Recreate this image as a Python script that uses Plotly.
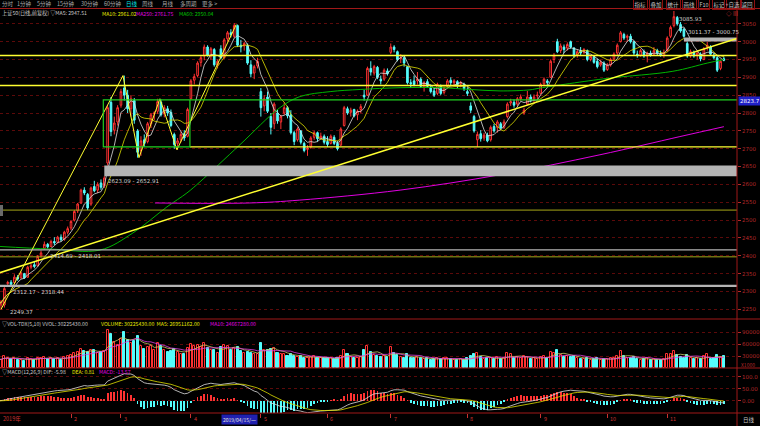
import plotly.graph_objects as go
import pandas as pd

# ---------------- data ----------------
month_starts = [0, 22, 37, 58, 79, 99, 118, 141, 163, 183, 201]
month_labels = ["2019年", "2", "3", "4", "5", "6", "7", "8", "9", "10", "11"]

opens = [
    2288,2262,2262,2322,2326,2325,2340,2338,2350,2340,2368,2375,2372,2400,2420,2432,2426,2440,2438,2452,2446,2466,
    2478,2500,2526,2548,2584,2572,2545,2594,2584,2604,2596,2660,2830,2752,2775,
    2822,2870,2850,2812,2835,2750,2695,2725,2720,2770,2798,2805,2830,2798,2812,2802,2740,2715,2725,2742,2735,
    2840,2892,2905,2942,2960,2985,2960,2978,2935,2980,2955,3008,3025,3015,3045,2990,2988,2990,2935,2912,2932,
    2860,2820,2845,2790,2770,2800,2775,2800,2815,2795,2745,2725,2750,2715,2698,2705,2732,2745,2730,2735,
    2720,2715,2732,2715,2710,2765,2812,2802,2810,2795,2810,2850,2850,2925,2912,2928,2895,2895,2918,
    2970,2985,2972,2952,2955,2930,2885,2890,2890,2895,2872,2888,2872,2862,2855,2875,2858,2875,2892,2885,2888,2882,2880,
    2860,2820,2790,2725,2742,2730,2738,2725,2762,2760,2770,2760,2790,2828,2830,2825,2840,2800,2825,2845,2838,2848,
    2855,2882,2890,2900,2950,3000,2975,2985,2982,3000,2982,2962,2975,2970,2975,2950,2958,2945,2935,2940,
    2922,2935,2952,2968,3000,3020,3012,3015,3000,2965,2962,2972,2960,2968,2965,2975,2965,2962,
    2975,3015,3045,3068,3048,3035,2995,2962,2970,2962,2965,2950,2985,2985,2962,2955,2925,2952]
highs = [
    2292,2276,2312.17,2330,2332,2348,2346,2356,2352,2372,2378,2385,2402,2414.69,2440,2436,2445,2452,2456,2460,2470,2482,
    2500,2528,2548,2588,2592,2576,2594,2610,2606,2614,2623.09,2822,2845,2790,2822,
    2868,2905,2865,2850,2842,2755,2735,2740,2775,2800,2805,2840,2838,2822,2820,2810,2745,2730,2748,2752,2815,
    2895,2910,2945,2960,2992,2990,2985,2982,2950,2990,3010,3030,3035,3052,3048,3005,3000,2995,2948,2935,2955,
    2870,2850,2860,2800,2830,2810,2795,2830,2820,2808,2750,2760,2752,2720,2710,2735,2750,2748,2745,2740,
    2735,2740,2738,2722,2760,2820,2818,2815,2812,2810,2825,2865,2930,2945,2935,2932,2905,2925,2925,
    2995,2990,2975,2965,2960,2932,2895,2905,2915,2900,2890,2895,2880,2870,2885,2880,2875,2895,2900,2895,2892,2890,2885,
    2872,2830,2795,2748,2752,2745,2745,2765,2770,2780,2775,2782,2830,2840,2838,2845,2852,2815,2862,2852,2852,2860,
    2885,2900,2895,2950,2968,3008,2995,2992,2998,3003,2985,2978,2985,2982,2978,2962,2962,2952,2948,2945,
    2940,2955,2970,2995,3030,3025,3020,3022,3002,2975,2980,2978,2972,2975,2985,2980,2975,2978,
    3015,3045,3085.93,3072,3055,3038,3000.75,2978,2975,2975,2970,2985,3000,2990,2968,2960,2948,2958]
lows = [
    2262,2249.37,2255,2318.44,2315,2322,2330,2336,2335,2338,2362,2365,2370,2395,2418.01,2420,2424,2430,2434,2440,2442,2460,
    2472,2496,2520,2545,2570,2528,2540,2578,2576,2585,2590,2652.91,2735,2740,2765,
    2815,2835,2800,2790,2770,2675,2680,2705,2715,2758,2780,2798,2790,2788,2792,2760,2700,2697,2718,2722,2732,
    2838,2880,2900,2930,2948,2958,2950,2930,2925,2950,2952,3000,3012,3010,2985,2970,2975,2935,2900,2895,2925,
    2790,2805,2800,2740,2755,2770,2755,2795,2785,2740,2710,2720,2712,2690,2680,2700,2725,2720,2725,2712,
    2705,2712,2710,2695,2708,2762,2795,2790,2788,2780,2800,2835,2848,2905,2905,2895,2880,2890,2905,
    2965,2970,2945,2940,2930,2880,2870,2875,2880,2870,2860,2870,2855,2845,2850,2850,2852,2870,2878,2875,2870,2872,2862,
    2848,2800,2745,2705,2720,2722,2718,2720,2745,2745,2752,2755,2785,2820,2815,2820,2835,2795,2822,2830,2828,2838,
    2852,2875,2878,2898,2940,2968,2968,2968,2975,2980,2955,2955,2962,2965,2945,2945,2938,2925,2930,2915,
    2918,2930,2948,2962,2998,3005,3000,2995,2962,2955,2958,2955,2942,2958,2960,2962,2958,2955,
    2972,3010,3040,3045,3025,3011.37,2955,2955,2955,2950,2945,2948,2975,2960,2950,2915,2920,2945]
closes = [
    2266,2271,2308,2325,2320,2340,2335,2352,2338,2368,2372,2370,2398,2408,2432,2425,2440,2436,2452,2445,2466,2476,
    2496,2524,2545,2584,2576,2534,2590,2582,2600,2592,2618,2815,2748,2772,2815,
    2860,2850,2812,2840,2780,2690,2722,2715,2770,2795,2800,2832,2795,2815,2800,2765,2712,2722,2740,2730,2810,
    2890,2902,2940,2955,2985,2962,2980,2935,2945,2955,3005,3025,3020,3045,2990,2985,2995,2940,2910,2930,2945,
    2815,2840,2805,2760,2825,2778,2790,2815,2792,2745,2720,2755,2718,2695,2702,2730,2745,2728,2735,2718,
    2712,2735,2715,2700,2755,2815,2800,2808,2792,2805,2818,2845,2925,2915,2930,2900,2890,2920,2910,
    2985,2978,2950,2955,2940,2885,2882,2880,2895,2875,2885,2875,2860,2850,2880,2855,2870,2890,2885,2890,2880,2885,2868,
    2855,2808,2750,2740,2728,2738,2722,2760,2750,2775,2758,2775,2825,2832,2822,2840,2845,2808,2845,2835,2845,2850,
    2880,2895,2885,2945,2962,2972,2988,2978,2992,2985,2960,2972,2968,2978,2950,2958,2942,2930,2942,2920,
    2935,2950,2965,2990,3025,3010,3015,3000,2968,2962,2975,2960,2968,2962,2975,2968,2962,2970,
    3010,3040,3070,3050,3030,3015,2960,2972,2960,2968,2952,2980,2990,2965,2955,2920,2945,2948]
volumes = [  # x1000
    22000,21000,30000,25000,23000,26000,20000,21000,17000,24000,22000,21000,26000,25000,28000,22000,24000,23000,24000,21000,27000,30000,
    32000,38000,40000,48000,42000,40000,44000,45000,38000,40000,42000,96000,86000,66000,58000,
    72000,90000,70000,62000,68000,80000,56000,48000,52000,55000,46000,62000,54000,44000,40000,42000,48000,40000,36000,34000,50000,
    60000,56000,58000,52000,62000,50000,44000,46000,38000,52000,58000,56000,44000,50000,52000,42000,38000,40000,38000,34000,36000,
    62000,46000,44000,48000,50000,38000,34000,36000,30000,34000,30000,28000,30000,26000,24000,28000,30000,26000,24000,25000,
    24000,26000,22000,24000,30000,46000,34000,28000,26000,24000,28000,44000,56000,40000,32000,30000,28000,30000,28000,
    52000,38000,32000,28000,26000,34000,24000,26000,28000,24000,22000,26000,20000,22000,24000,22000,24000,26000,22000,20000,21000,22000,20000,
    24000,30000,36000,38000,28000,22000,24000,26000,22000,28000,22000,24000,38000,34000,26000,28000,24000,30000,28000,22000,24000,22000,
    28000,30000,24000,40000,38000,46000,32000,28000,30000,28000,30000,24000,22000,22000,26000,20000,22000,24000,20000,22000,
    22000,24000,26000,30000,42000,30000,26000,24000,28000,22000,20000,22000,24000,20000,22000,20000,21000,22000,
    34000,36000,42000,32000,28000,26000,32000,24000,22000,24000,22000,30000,34000,22000,24000,32000,28000,30225]

# moving averages (they need history before the window)
ma60_idx = [0.7, 15.7, 30.7, 40.6, 50.8, 56.8, 60.7, 72.7, 84.7, 90.7, 99.8, 108.8, 120.8, 132.8, 141.8, 150.8, 159.8, 162.8, 182.9, 202.7, 213, 218]
ma60_val = [2426, 2419, 2416, 2464, 2537, 2576, 2607, 2711, 2815, 2846, 2860, 2866, 2871, 2871, 2866, 2862, 2865, 2870, 2897, 2917, 2940, 2950.04]
ma250_idx = [47.2, 75.7, 90.7, 120.8, 150.8, 180.8, 204.8, 218]
ma250_val = [2548, 2548, 2556, 2584, 2627, 2683, 2734, 2761.75]

# user drawings (index, price)
trend_pts = [(0, 2350.7), (221.94, 3008.7)]
zigzag_idx = [1, 37.6, 42.4, 48.7, 53.8, 71.6]
zigzag_val = [2250, 2905, 2675, 2840, 2697, 3048]
hlines_full = [2961, 2877, 2528, 2397]
hline_partial = (57.7, 2705)
green_box = (31.7, 57.7, 2705, 2837)
gaps = [(0.684, 2312.17, 2318.44), (0.684, 2414.69, 2418.01), (32, 2623.09, 2652.91), (206, 3000.75, 3011.37)]

price_ticks = list(range(2250, 3051, 50))
vol_ticks = [30000, 60000, 90000]
vol_ticktext = ["30000", "60000", "90000"]
macd_ticks = [0, 50, 100]
macd_ticktext = ["0.00", "50.00", "100.0"]

# ---------------- styling ----------------
RED = "#ff3232"
CYAN = "#54fcfc"
AXRED = "#b42828"
GRID = "#5c0a0a"
W, H = 760, 426
XR = [0.684, 221.94]
FS = 5.5

def px(x):
    return x / W

def py(y):
    return 1 - y / H

idx = list(range(len(closes)))
cs = pd.Series(closes, dtype=float)
ma5 = cs.rolling(5, min_periods=1).mean()
ma10 = cs.rolling(10, min_periods=1).mean()
vs = pd.Series(volumes, dtype=float)
vma5 = vs.rolling(5, min_periods=1).mean()
vma10 = vs.rolling(10, min_periods=1).mean()
ema12 = cs.ewm(span=12, adjust=False).mean()
ema26 = cs.ewm(span=26, adjust=False).mean()
dif = ema12 - ema26
dea = dif.ewm(span=9, adjust=False).mean()
macd = 2 * (dif - dea)

up = [c >= o for o, c in zip(opens, closes)]

fig = go.Figure()
fig.add_trace(go.Candlestick(
    x=idx, open=opens, high=highs, low=lows, close=closes,
    increasing=dict(line=dict(color=RED, width=1), fillcolor="#000000"),
    decreasing=dict(line=dict(color=CYAN, width=1), fillcolor=CYAN),
    whiskerwidth=0, xaxis="x", yaxis="y", hoverinfo="skip"))
fig.add_trace(go.Scatter(x=idx, y=ma5, mode="lines", line=dict(color="#e0e0e0", width=0.8), xaxis="x", yaxis="y"))
fig.add_trace(go.Scatter(x=idx, y=ma10, mode="lines", line=dict(color="#e0e000", width=0.8), xaxis="x", yaxis="y"))
fig.add_trace(go.Scatter(x=ma60_idx, y=ma60_val, mode="lines", line=dict(color="#00b400", width=1, shape="spline"), xaxis="x", yaxis="y"))
fig.add_trace(go.Scatter(x=ma250_idx, y=ma250_val, mode="lines", line=dict(color="#e000e0", width=1, shape="spline"), xaxis="x", yaxis="y"))
fig.add_trace(go.Scatter(x=zigzag_idx, y=zigzag_val, mode="lines", line=dict(color="#ffff30", width=1), xaxis="x", yaxis="y"))

# volume
fig.add_trace(go.Bar(x=idx, y=volumes, width=0.62,
    marker=dict(color=["#000000" if u else CYAN for u in up],
                line=dict(color=[RED if u else CYAN for u in up], width=1)),
    xaxis="x", yaxis="y2"))
fig.add_trace(go.Scatter(x=idx, y=vma5, mode="lines", line=dict(color="#c8c864", width=0.8), xaxis="x", yaxis="y2"))
fig.add_trace(go.Scatter(x=idx, y=vma10, mode="lines", line=dict(color="#e040e0", width=0.8), xaxis="x", yaxis="y2"))

# macd
fig.add_trace(go.Bar(x=idx, y=macd, width=0.22,
    marker=dict(color=[RED if m >= 0 else CYAN for m in macd], line=dict(width=0)),
    xaxis="x", yaxis="y3"))
fig.add_trace(go.Scatter(x=idx, y=dif, mode="lines", line=dict(color="#e0e0e0", width=0.8), xaxis="x", yaxis="y3"))
fig.add_trace(go.Scatter(x=idx, y=dea, mode="lines", line=dict(color="#e0e000", width=0.8), xaxis="x", yaxis="y3"))

shapes = []
for x0, lo, hi in gaps:
    shapes.append(dict(type="rect", xref="x", yref="y", x0=x0, x1=XR[1], y0=lo, y1=hi,
                       fillcolor="#b4b4b4", line=dict(width=0), layer="above"))
for v in hlines_full:
    col = "#ffff30" if v > 2700 else "#a8a818"
    shapes.append(dict(type="line", xref="x domain", yref="y", x0=0, x1=1, y0=v, y1=v,
                       line=dict(color=col, width=1.5 if v > 2700 else 1)))
shapes.append(dict(type="line", xref="x", yref="y", x0=hline_partial[0], x1=XR[1], y0=hline_partial[1], y1=hline_partial[1],
                   line=dict(color="#ffff30", width=1.2)))
gx0, gx1, gy0, gy1 = green_box
shapes.append(dict(type="rect", xref="x", yref="y", x0=gx0, x1=gx1, y0=gy0, y1=gy1, line=dict(color="#20d020", width=1.2)))
shapes.append(dict(type="line", xref="x", yref="y", x0=gx1, x1=XR[1], y0=gy1, y1=gy1, line=dict(color="#20d020", width=1.2)))
shapes.append(dict(type="line", xref="x", yref="y", x0=trend_pts[0][0], y0=trend_pts[0][1], x1=trend_pts[1][0], y1=trend_pts[1][1],
                   line=dict(color="#ffff30", width=1.5)))
for yy in [8.5, 319, 368, 413]:
    shapes.append(dict(type="line", xref="paper", yref="paper", x0=0, x1=1, y0=py(yy), y1=py(yy), line=dict(color="#a01818", width=1)))
shapes.append(dict(type="line", xref="paper", yref="paper", x0=px(737), x1=px(737), y0=0, y1=py(8.5), line=dict(color="#a01818", width=1)))
shapes.append(dict(type="line", xref="paper", yref="paper", x0=px(737), x1=px(737), y0=py(9), y1=1, line=dict(color="#a01818", width=1)))
# small handle at the left edge
shapes.append(dict(type="rect", xref="paper", yref="paper", x0=0, x1=px(3), y0=py(216), y1=py(205),
                   fillcolor="#6a6a6a", line=dict(width=0)))

ann = []
def txt(x, y, s, color="#c0c0c0", size=FS, xanchor="left", fam="Noto Sans CJK SC", **kw):
    ann.append(dict(x=px(x), y=py(y), xref="paper", yref="paper", text=s, showarrow=False,
                    xanchor=xanchor, yanchor="middle", font=dict(color=color, size=size, family=fam), **kw))

# toolbar
for x, s in [(0, "分时"), (15, "1分钟"), (35, "5分钟"), (55, "15分钟"), (79, "30分钟"), (102, "60分钟"),
             (140, "周线"), (160, "月线"), (178, "多周期"), (200, "更多 >")]:
    txt(x, 4.5, s, color="#a8a8a8")
txt(124, 4.5, "日线", color="#00e8e8")
for x, s in [(633, "指标"), (649, "叠加"), (666, "统计"), (682, "画线"), (698, "F10"), (712, "标记"), (724, "+自选"), (740, "返回")]:
    txt(x, 4.5, s, color="#c8c8c8", bordercolor="#8c1010", borderwidth=1, borderpad=0.5)
txt(724, 14, "◇ Ⅲ", color="#c83232")

# title row
TS = 5.2
txt(0, 13.5, "上证50(日线,前复权) ▽MA5: 2947.51", color="#c8c8c8", size=TS)
txt(100, 13.5, "MA10: 2961.02", color="#e8e800", size=TS)
txt(134, 13.5, "MA250: 2761.75", color="#e000e0", size=TS)
txt(177, 13.5, "MA60: 2950.04", color="#00c000", size=TS)
# volume / macd titles
txt(0, 323.5, "▽VOL-TDX(5,10) VVOL: 30225430.00", color="#c8c8c8", size=TS)
txt(99, 323.5, "VOLUME: 30225430.00  MA5: 26951162.00", color="#e8e800", size=TS)
txt(208, 323.5, "MA10: 24667280.00", color="#e000e0", size=TS)
txt(0, 371.5, "▽MACD(12,26,9) DIF: -5.98", color="#c8c8c8", size=TS)
txt(70, 371.5, "DEA: 0.81", color="#e8e800", size=TS)
txt(97, 371.5, "MACD: -13.57", color="#e000e0", size=TS)
txt(739, 364.5, "X1000", color=AXRED, size=5)
txt(748.5, 420, "日线", color="#c8c8c8", xanchor="center")
txt(737.5, 101, "2823.7", color="#ffffff", bgcolor="#2020c8", fam="DejaVu Sans", size=5.5)

def dtxt(x, y, s, **kw):
    ann.append(dict(x=x, y=y, xref="x", yref="y", text=s, showarrow=False, xanchor="left", yanchor="middle",
                    font=dict(color="#d0d0d0", size=5.5, family="DejaVu Sans"), **kw))
dtxt(3.2, 2252, "2249.37", yshift=-3)
dtxt(4.0, 2312.17, "2312.17 - 2318.44", yshift=-5)
dtxt(15.0, 2414.69, "2414.69 - 2418.01", yshift=-5)
dtxt(32.4, 2623.09, "2623.09 - 2652.91", yshift=-5)
dtxt(206.7, 3011.37, "3011.37 - 3000.75", yshift=6)
dtxt(204.0, 3085.93, "3085.93", yshift=-8)

# month labels (first one sits at the very left edge of the window)
txt(0.5, 419, month_labels[0], color="#c83232")
for m, lab in zip(month_starts[1:], month_labels[1:]):
    ann.append(dict(x=m, y=py(419), xref="x", yref="paper", text=lab, showarrow=False, xanchor="left", yanchor="middle",
                    xshift=1, font=dict(color="#c83232", size=FS, family="Noto Sans CJK SC")))
ann.append(dict(x=67, y=py(419), xref="x", yref="paper", text="2019/04/15/一", showarrow=False, xanchor="left",
                yanchor="middle", bgcolor="#2020b0", font=dict(color="#e0e0e0", size=5, family="Noto Sans CJK SC")))

tickfont = dict(color=AXRED, size=FS, family="DejaVu Sans")
fig.update_layout(
    width=W, height=H, margin=dict(l=0, r=0, t=0, b=0),
    paper_bgcolor="#000000", plot_bgcolor="#000000", showlegend=False, hovermode=False,
    bargap=0, shapes=shapes, annotations=ann,
    xaxis=dict(domain=[0, px(737)], range=XR, anchor="y3", showgrid=False, zeroline=False,
               showticklabels=False, tickvals=month_starts, ticks="outside", ticklen=4, tickcolor="#c83232",
               showline=False, rangeslider=dict(visible=False), fixedrange=True),
    yaxis=dict(domain=[py(318), py(8.5)], range=[2225.6, 3092.95], side="right", anchor="x",
               tickvals=price_ticks, showgrid=True, gridcolor=GRID, griddash="dot", gridwidth=1,
               zeroline=False, tickfont=tickfont, ticks="outside", ticklen=3, tickcolor=AXRED),
    yaxis2=dict(domain=[py(368), py(319)], range=[0, 122500], side="right", anchor="x",
                tickvals=vol_ticks, ticktext=vol_ticktext, showgrid=True, gridcolor=GRID, griddash="dot", zeroline=False,
                tickfont=tickfont, ticks="outside", ticklen=3, tickcolor=AXRED),
    yaxis3=dict(domain=[py(413), py(369)], range=[-49.2, 131.1], side="right", anchor="x",
                tickvals=macd_ticks, ticktext=macd_ticktext, showgrid=True, gridcolor=GRID, griddash="dot",
                zeroline=False, tickfont=tickfont, ticks="outside", ticklen=3, tickcolor=AXRED),
)
fig.write_html("out.html")
